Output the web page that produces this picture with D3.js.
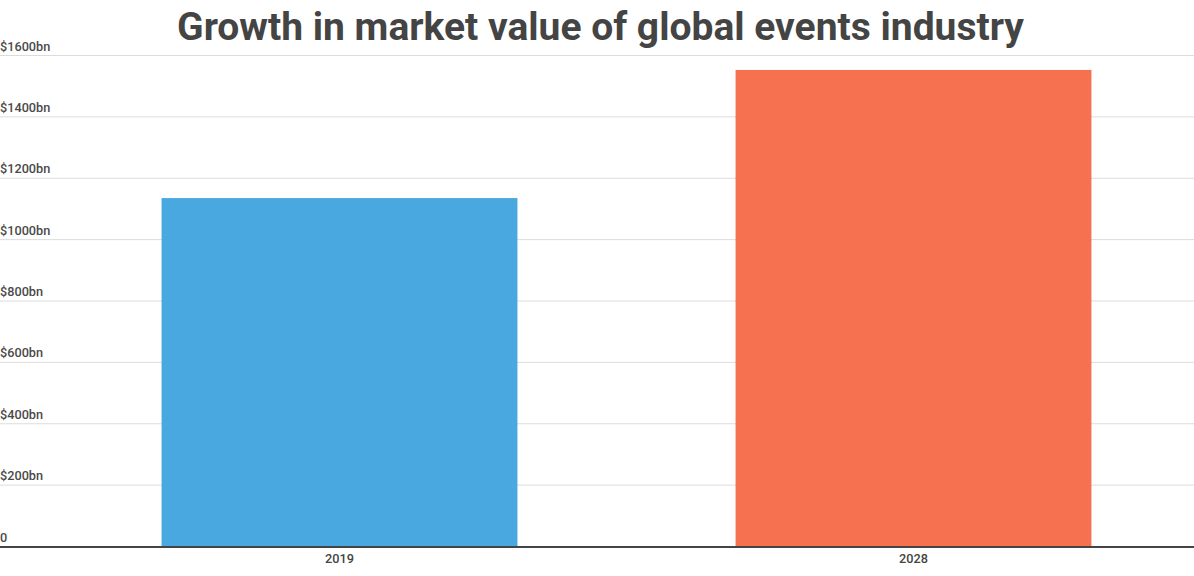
<!DOCTYPE html>
<html>
<head>
<meta charset="utf-8">
<script src="https://cdn.jsdelivr.net/npm/d3@7"></script>
<style>
  body { margin: 0; background: #fff; }
  svg { display: block; font-family: Roboto, sans-serif; }
</style>
</head>
<body>
<svg id="board" width="1194" height="576"></svg>
<script>
// data
let years = ['2019', '2028']
let values = [1135.4, 1552.9]
let barColors = ['#48a8df', '#f67150']
let yTicks = [0, 200, 400, 600, 800, 1000, 1200, 1400, 1600]

let width = 1194
let height = 576

let board = d3.select('#board')

let y = d3.scaleLinear()
    .domain([0, 1600])
    .range([546.5, 55.5])

let x = d3.scaleBand()
    .domain(years)
    .range([52.5, 1200.5])
    .paddingInner(0.38)
    .paddingOuter(0.19)

// title
board.append('text')
    .attr('x', 600.5)
    .attr('y', 40)
    .attr('text-anchor', 'middle')
    .attr('font-size', 39)
    .attr('font-weight', 'bold')
    .attr('fill', '#444')
    .text('Growth in market value of global events industry')

// grid lines
board.selectAll('line.grid')
    .data(yTicks.filter(d => d > 0))
    .enter()
    .append('line')
    .attr('class', 'grid')
    .attr('x1', 0)
    .attr('x2', width)
    .attr('y1', d => y(d))
    .attr('y2', d => y(d))
    .attr('stroke', '#dcdcdc')
    .attr('stroke-width', 1)

// tick labels, sitting above their lines
board.selectAll('text.ylab')
    .data(yTicks)
    .enter()
    .append('text')
    .attr('class', 'ylab')
    .attr('x', 0)
    .attr('y', d => y(d) - 5)
    .attr('font-size', 12.7)
    .attr('font-weight', 500)
    .attr('fill', '#4a4a4a')
    .text(d => d === 0 ? '0' : '$' + d + 'bn')

// bars
board.selectAll('rect.bar')
    .data(values)
    .enter()
    .append('rect')
    .attr('class', 'bar')
    .attr('x', (d, i) => x(years[i]))
    .attr('width', x.bandwidth())
    .attr('y', d => y(d))
    .attr('height', d => y(0) - y(d))
    .attr('fill', (d, i) => barColors[i])

// base line
board.append('line')
    .attr('x1', 0)
    .attr('x2', width)
    .attr('y1', y(0) + 0.5)
    .attr('y2', y(0) + 0.5)
    .attr('stroke', '#444')
    .attr('stroke-width', 2)

// category labels
board.selectAll('text.xlab')
    .data(years)
    .enter()
    .append('text')
    .attr('class', 'xlab')
    .attr('x', d => x(d) + x.bandwidth() / 2)
    .attr('y', 563)
    .attr('text-anchor', 'middle')
    .attr('font-size', 12.7)
    .attr('font-weight', 500)
    .attr('fill', '#444')
    .text(d => d)
</script>
</body>
</html>
